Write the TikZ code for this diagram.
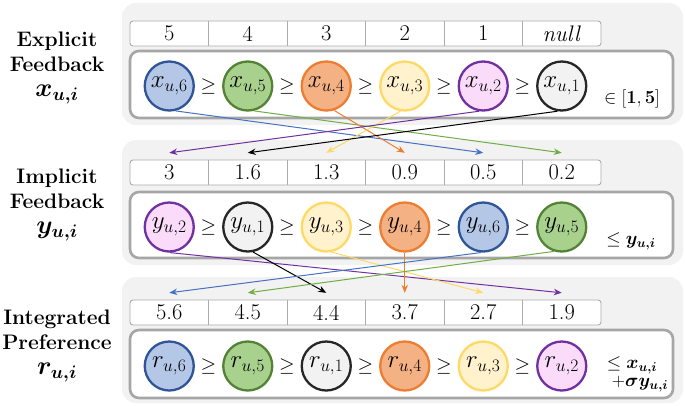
\documentclass[tikz,border=0pt]{standalone}
\usepackage{fix-cm}
\usepackage{amsmath,bm}
\usetikzlibrary{arrows.meta,calc}
\definecolor{panelbg}{HTML}{F2F2F2}
\definecolor{cellgray}{HTML}{AFABAB}
\definecolor{boxgray}{HTML}{A6A6A6}
\definecolor{bluedk}{HTML}{2F5597}
\definecolor{bluelt}{HTML}{B4C7E7}
\definecolor{bluearr}{HTML}{4472C4}
\definecolor{greendk}{HTML}{548235}
\definecolor{greenlt}{HTML}{A9D18E}
\definecolor{greenarr}{HTML}{70AD47}
\definecolor{orangedk}{HTML}{ED7D31}
\definecolor{orangelt}{HTML}{F4B183}
\definecolor{yellowdk}{HTML}{FFD966}
\definecolor{yellowlt}{HTML}{FFF2CC}
\definecolor{purpledk}{HTML}{7030A0}
\definecolor{purplelt}{HTML}{FADCFA}
\definecolor{blackdk}{HTML}{262626}
\definecolor{blacklt}{HTML}{F2F2F2}
\newcommand{\lblmath}[1]{{\fontsize{26}{26}\selectfont$\bm{#1}$}}
\begin{document}
\begin{tikzpicture}[x=1pt,y=-1pt,
  panel/.style={fill=panelbg, rounded corners=14pt},
  strip/.style={draw=cellgray, line width=0.9pt, fill=white, rounded corners=3pt},
  cell/.style={minimum width=78.5pt, minimum height=25pt, inner sep=0pt, font=\fontsize{22.5}{26}\selectfont},
  inbox/.style={draw=boxgray, line width=2.6pt, fill=white, rounded corners=9pt},
  circ/.style={circle, line width=2.3pt, minimum size=49pt, inner sep=0pt, font=\fontsize{25}{28}\selectfont},
  cblue/.style={circ, draw=bluedk, fill=bluelt},
  cgreen/.style={circ, draw=greendk, fill=greenlt},
  corange/.style={circ, draw=orangedk, fill=orangelt},
  cyellow/.style={circ, draw=yellowdk, fill=yellowlt},
  cpurple/.style={circ, draw=purpledk, fill=purplelt},
  cblack/.style={circ, draw=blackdk, fill=blacklt},
  geqs/.style={font=\fontsize{20}{24}\selectfont},
  lbl/.style={align=center, font=\fontsize{21}{25}\selectfont\bfseries},
  note/.style={font=\fontsize{18.5}{21}\selectfont, align=left},
  arr/.style={line width=1pt, -{Stealth[length=8pt,width=6.5pt]}}
]
\useasboundingbox (0,0) rectangle (685,405);

% ---------- panels ----------
\fill[panel] (122,3) rectangle (683,125);
\fill[panel] (122,140) rectangle (683,265);
\fill[panel] (122,277) rectangle (683,403);

% ---------- left labels ----------
\node[lbl] (lab1) at (57,68) {Explicit\\Feedback\\\lblmath{x_{u,i}}};
\node[lbl] (lab2) at (57,205) {Implicit\\Feedback\\\lblmath{y_{u,i}}};
\node[lbl] (lab3) at (57,346) {Integrated\\Preference\\\lblmath{r_{u,i}}};

% ---------- value strips ----------
\foreach \p/\yc/\ta/\tb/\tc/\td/\te/\tf in {1/33.5/5/4/3/2/1/\textit{null}, 2/172.5/3/1.6/1.3/0.9/0.5/0.2, 3/312.5/5.6/4.5/4.4/3.7/2.7/1.9}{
  \draw[strip] (130,\yc-12.5) rectangle (601,\yc+12.5);
  \node[cell] (v\p1) at (169.25,\yc) {\ta};
  \node[cell] (v\p2) at (247.75,\yc) {\tb};
  \node[cell] (v\p3) at (326.25,\yc) {\tc};
  \node[cell] (v\p4) at (404.75,\yc) {\td};
  \node[cell] (v\p5) at (483.25,\yc) {\te};
  \node[cell] (v\p6) at (561.75,\yc) {\tf};
  \foreach \k in {1,...,5}{
    \draw[cellgray, line width=0.9pt] (v\p\k.north east) -- (v\p\k.south east);
  }
}

% ---------- inner boxes ----------
\draw[inbox] (130,51) rectangle (673,118);
\draw[inbox] (130,192) rectangle (673,258);
\draw[inbox] (130,330) rectangle (673,398);

% ---------- circles ----------
\node[cblue]   (x6) at (169.25,86) {$x_{u,6}$};
\node[cgreen]  (x5) at (247.75,86) {$x_{u,5}$};
\node[corange] (x4) at (326.25,86) {$x_{u,4}$};
\node[cyellow] (x3) at (404.75,86) {$x_{u,3}$};
\node[cpurple] (x2) at (483.25,86) {$x_{u,2}$};
\node[cblack]  (x1) at (561.75,86) {$x_{u,1}$};

\node[cpurple] (y2) at (169.25,227) {$y_{u,2}$};
\node[cblack]  (y1) at (247.75,227) {$y_{u,1}$};
\node[cyellow] (y3) at (326.25,227) {$y_{u,3}$};
\node[corange] (y4) at (404.75,227) {$y_{u,4}$};
\node[cblue]   (y6) at (483.25,227) {$y_{u,6}$};
\node[cgreen]  (y5) at (561.75,227) {$y_{u,5}$};

\node[cblue]   (r6) at (169.25,366) {$r_{u,6}$};
\node[cgreen]  (r5) at (247.75,366) {$r_{u,5}$};
\node[cblack]  (r1) at (326.25,366) {$r_{u,1}$};
\node[corange] (r4) at (404.75,366) {$r_{u,4}$};
\node[cyellow] (r3) at (483.25,366) {$r_{u,3}$};
\node[cpurple] (r2) at (561.75,366) {$r_{u,2}$};

% ---------- geq signs ----------
\foreach \yy/\n in {86/a,227/b,366/c}{
  \foreach \k in {1,...,5}{
    \node[geqs] (g\n\k) at (130+78.5*\k,\yy) {$\geq$};
  }
}

% ---------- right notes ----------
\node[note] (n1) at (632,99) {$\in[\mathbf{1},\mathbf{5}]$};
\node[note] (n2) at (631,241) {$\leq \bm{y_{u,i}}$};
\node[note] (n3) at (632,365) {$\leq \bm{x_{u,i}}$};
\node[note] (n4) at (640,384) {$+\bm{\sigma y_{u,i}}$};

% ---------- arrows explicit -> implicit ----------
\draw[arr, bluearr]   (x6.-76)  -- ([yshift=7pt]v25.north);
\draw[arr, greenarr]  (x5.-76)  -- ([yshift=7pt]v26.north);
\draw[arr, orangedk]  (x4.-72)  -- ([yshift=7pt]v24.north);
\draw[arr, yellowdk]  (x3.-100) -- ([yshift=7pt]v23.north);
\draw[arr, purpledk]  (x2.-100) -- ([yshift=7pt]v21.north);
\draw[arr, black]     (x1.-100) -- ([yshift=7pt]v22.north);

% ---------- arrows implicit -> integrated ----------
\draw[arr, purpledk]  (y2.-88)  -- ([yshift=7pt]v36.north);
\draw[arr, black]     (y1.-78)  -- ([yshift=7pt]v33.north);
\draw[arr, yellowdk]  (y3.-78)  -- ([yshift=7pt]v35.north);
\draw[arr, orangedk]  (y4.south) -- ([yshift=7pt]v34.north);
\draw[arr, bluearr]   (y6.-95)  -- ([yshift=7pt]v31.north);
\draw[arr, greenarr]  (y5.-108) -- ([yshift=7pt]v32.north);
\end{tikzpicture}
\end{document}
